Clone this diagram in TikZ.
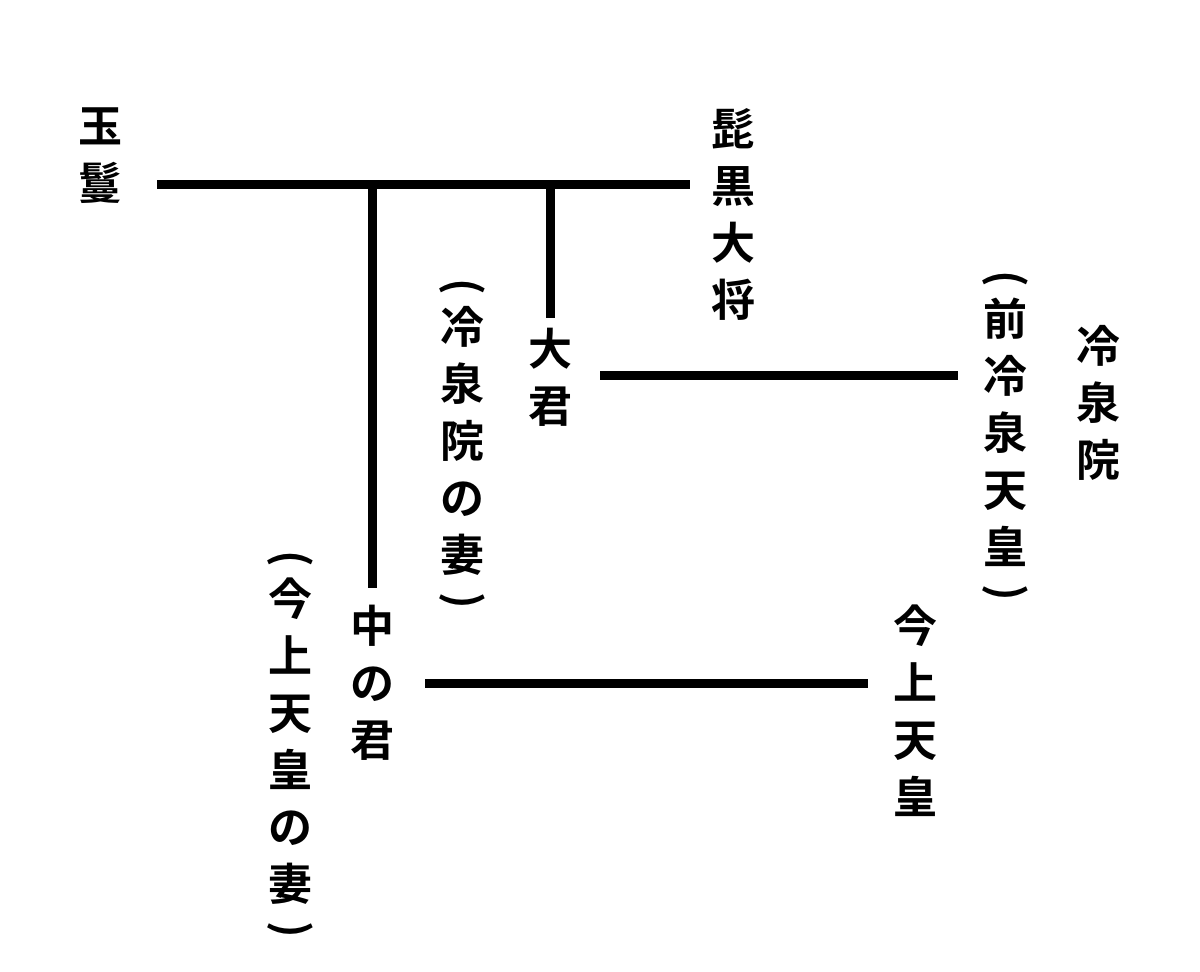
\documentclass[tikz,border=0pt]{standalone}
\usepackage{fontspec}
\usepackage{graphicx}
\newfontfamily\jp{Noto Sans CJK JP Bold}
\newcommand{\po}{\rotatebox[origin=c]{-90}{(}}
\newcommand{\pc}{\rotatebox[origin=c]{-90}{)}}
\begin{document}
\begin{tikzpicture}[x=1pt,y=-1pt,
  vt/.style={anchor=north,align=center,inner sep=0pt,font=\jp\fontsize{44}{57}\selectfont},
  ln/.style={line width=9pt}]
\useasboundingbox (0,0) rectangle (1200,972);
\node[vt] (tama) at (100,108) {玉\\鬘};
\node[vt] (hige) at (733,108) {髭\\黒\\大\\将};
\node[vt] (oo) at (550,328) {大\\君};
\node[vt] (oow) at (462,278) {\po\\[-14pt]冷\\泉\\院\\の\\妻\\[-14pt]\pc};
\node[vt] (rei) at (1098,325) {冷\\泉\\院};
\node[vt] (reiw) at (1005,270) {\po\\[-14pt]前\\冷\\泉\\天\\皇\\[-14pt]\pc};
\node[vt] (naka) at (372,605) {中\\の\\君};
\node[vt] (nakaw) at (290,550) {\po\\[-14pt]今\\上\\天\\皇\\の\\妻\\[-14pt]\pc};
\node[vt] (kin) at (915,605) {今\\上\\天\\皇};
\coordinate (h1) at (372,184);
\coordinate (h2) at (550,184);
\draw[ln] (157,184) coordinate (ta) -- (690,184) coordinate (hi);
\draw[ln] (h1) -- (372,588) coordinate (n1);
\draw[ln] (h2) -- (550,318) coordinate (o1);
\draw[ln] (600,375) coordinate (a) -- (958,375) coordinate (b);
\draw[ln] (425,683) coordinate (c) -- (868,683) coordinate (d);
\end{tikzpicture}
\end{document}
